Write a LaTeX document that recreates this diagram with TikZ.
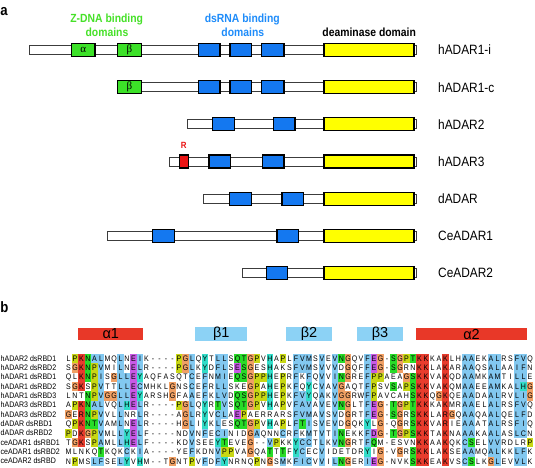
\documentclass[tikz,border=0pt]{standalone}
\usepackage{fontspec}
\setmainfont{Liberation Sans}[FakeStretch=0.88]
\newfontfamily\grserif{Liberation Serif}
\newfontfamily\hdrfont{Liberation Sans}
\definecolor{zgreen}{RGB}{60,225,40}
\definecolor{dsblue}{RGB}{20,120,240}
\definecolor{deamyel}{RGB}{255,255,0}
\definecolor{rred}{RGB}{235,20,20}
\definecolor{ztext}{RGB}{70,225,40}
\definecolor{dstext}{RGB}{30,140,250}
\definecolor{hdrred}{RGB}{232,56,40}
\definecolor{hdrblue}{RGB}{140,210,245}
\definecolor{colb}{RGB}{130,200,240}
\definecolor{colr}{RGB}{232,60,45}
\definecolor{colg}{RGB}{40,220,40}
\definecolor{colm}{RGB}{200,90,230}
\definecolor{colo}{RGB}{240,160,100}
\definecolor{coly}{RGB}{200,215,20}
\definecolor{colc}{RGB}{50,220,200}
\definecolor{barline}{RGB}{60,60,60}
\ExplSyntaxOn
\cs_new:Npn \getchar #1#2 { \str_item:Nn #1 {#2} }
\ExplSyntaxOff
\tikzset{
  protbar/.style={draw=barline, line width=0.9pt, fill=white},
  dombox/.style={draw=black, line width=1.2pt},
  plabel/.style={anchor=base west, inner sep=0pt, font=\fontsize{13.5}{15}\selectfont},
  hdrtxt/.style={anchor=base, inner sep=0pt, font=\bfseries\fontsize{11.8}{13}\selectfont},
  greek/.style={inner sep=0pt, font=\grserif\fontsize{11}{12}\selectfont},
  panel/.style={anchor=base west, inner sep=0pt, font=\bfseries\fontsize{15}{16}\selectfont},
  namest/.style={anchor=base west, inner sep=0pt, font=\fontsize{8}{9}\selectfont},
  resst/.style={anchor=base, inner sep=0pt, font=\fontsize{8}{9}\selectfont},
  hbar/.style={rectangle, inner sep=0pt, minimum height=12pt, font=\hdrfont\fontsize{14.5}{15}\selectfont},
}
\newcommand\arow[2]{%
  \draw[protbar] (#2,#1-4.5) rectangle (416,#1+4.5);
  \draw[dombox,fill=deamyel] (324,#1-6.5) rectangle (414,#1+6.5);}
\newcommand\dbox[4]{\draw[dombox,fill=#1] (#2,#4-6.5) rectangle (#3,#4+6.5);}
\begin{document}
\begin{tikzpicture}[x=1pt,y=-1pt]
\useasboundingbox (0,0) rectangle (535,467);
\fill[white] (0,0) rectangle (535,467);
% ---------- panel a ----------
\node[panel] (pa) at (0.3,15.3) {a};
\node[hdrtxt, text=ztext] (zd1) at (106.7,22.8) {Z-DNA binding};
\node[hdrtxt, text=ztext] (zd2) at (107,36.8) {domains};
\node[hdrtxt, text=dstext] (ds1) at (242.3,22.8) {dsRNA binding};
\node[hdrtxt, text=dstext] (ds2) at (242.8,36.8) {domains};
\node[hdrtxt] (dm) at (369.2,36.5) {deaminase domain};
% hADAR1-i
\arow{50}{29}
\dbox{zgreen}{71.7}{95}{50}
\dbox{zgreen}{117.3}{141.3}{50}
\dbox{dsblue}{198.3}{220}{50}
\dbox{dsblue}{230}{251.7}{50}
\dbox{dsblue}{261.7}{284}{50}
\node[greek] (ga1) at (83.35,50) {α};
\node[greek] (gb1) at (129.3,50) {β};
\node[plabel] (l1) at (438,54.8) {hADAR1-i};
% hADAR1-c
\arow{87.2}{117.3}
\dbox{zgreen}{117.3}{141.3}{87.2}
\dbox{dsblue}{198.3}{220}{87.2}
\dbox{dsblue}{230}{251.7}{87.2}
\dbox{dsblue}{261.7}{284}{87.2}
\node[greek] (gb2) at (129.3,87.2) {β};
\node[plabel] (l2) at (438,92) {hADAR1-c};
% hADAR2
\arow{124.3}{187}
\dbox{dsblue}{212.6}{234.5}{124.3}
\dbox{dsblue}{273.7}{295}{124.3}
\node[plabel] (l3) at (438,129.1) {hADAR2};
% hADAR3
\arow{161.5}{169}
\dbox{rred}{179.2}{188.4}{161.5}
\dbox{dsblue}{208.9}{230.7}{161.5}
\dbox{dsblue}{262.8}{284}{161.5}
\node[anchor=base, inner sep=0pt, font=\bfseries\fontsize{9}{10}\selectfont, text=rred] (rl) at (183.8,148.2) {R};
\node[plabel] (l4) at (438,166.3) {hADAR3};
% dADAR
\arow{198.7}{203.4}
\dbox{dsblue}{229.7}{251.5}{198.7}
\dbox{dsblue}{281.9}{303.4}{198.7}
\node[plabel] (l5) at (438,203.5) {dADAR};
% CeADAR1
\arow{235.8}{107.8}
\dbox{dsblue}{152.2}{174.4}{235.8}
\dbox{dsblue}{277}{298.6}{235.8}
\node[plabel] (l6) at (438,240.6) {CeADAR1};
% CeADAR2
\arow{273}{242.3}
\dbox{dsblue}{266.5}{287.7}{273}
\node[plabel] (l7) at (438,277.8) {CeADAR2};
% ---------- panel b ----------
\node[panel] (pb) at (0.3,312) {b};
\node[hbar, fill=hdrred, minimum width=65pt] (ha1) at (110.75,334) {α1};
\node[hbar, fill=hdrblue, minimum width=52pt] (hb1) at (221.25,334) {β1};
\node[hbar, fill=hdrblue, minimum width=45.5pt] (hb2) at (309,334) {β2};
\node[hbar, fill=hdrblue, minimum width=45.5pt] (hb3) at (380,334) {β3};
\node[hbar, fill=hdrred, minimum width=110.5pt] (ha2) at (471.5,334) {α2};
% colour cells, one string per column (rows 1..12)
\foreach \cc [count=\ci from 1] in {wwwwwwowywww,yowowywywowy,rrrrwrrrrrww,gggwggggowww,byyyybygyywb,bbbbbbbbbbgb,wwwwowwwwwww,wwowowwwwwww,bbbbbbbbbbwb,wwbbbcwwccbc,%
mmmmmmwmmmww,bbcbcbbbbbbc,wwwwwwwwwwww,wwwwwwwwwwww,wwwwwwwwwwww,wwwwwwwwwwww,wwwoowwwwwwo,yywwwywwwwww,oowwwooowwww,bbbbbbbbbbby,%
wwwwwwwwwwww,ccbbbcccbwwb,wwwwwwwwwwww,bbbbbgbbbcbb,bbbbbbbwbgyc,wwwwwwwwwwyw,gmgwggmgwwww,gggwggygwwww,oooooowoooow,ywyyyywybwwy,%
wwywywwwwwww,ccccccwcwbgo,wwwwwwwwwyww,ywyyyywybwgb,wwwwwwwwwwww,bbbbbbbbbccb,bbwwbbbgwbbb,bbbccbbbbbwb,wwwwwwwwwwww,bbbbbbbbbbbb,%
wwwwwwwwwwww,bbbbbbbbbbwb,gwgoogwwggwg,ooowoooowowo,wwwwwwwwwwww,wwwwwwwwwwww,bbbbbbbcbbcb,mmyyymmwmgwm,ooywwoooowoo,wwwwwwwwwwww,%
ggwgwggwgwww,oowwwoooowow,ywoywywwywww,gwgggggggwgg,rrrrrrrrrrrr,rrrrrrrrrrrr,wwwwwwwwwwww,wwwwowwwwwww,rrrrrrrrrrrr,wwwwwwowwwww,%
wwwwwwwwwwww,bbbbbbbbbbbb,bbbbbbbbbgbg,wwwwwwwwwwww,wwwwwwwwwwww,bbbbbbbbbbbo,bbbbbbbbbbbb,wwwwwwwwwwww,wwwwwwwwwwww,bbbbbbbbbwbb,%
bbbcbbbbbwbb,wwwoowwwwyww} {
  \foreach \rr in {1,...,12} {
    \edef\kc{\getchar\cc{\rr}}
    \if\kc w\else
      \edef\fc{col\kc}
      \fill[\fc] (58.75+6.5*\ci,344.475+9.35*\rr) rectangle ++(6.5,9.35);
    \fi
  }
}
% sequences
\foreach \rr/\nm/\sq in {%
1/hADAR2 dsRBD1/LPKNALMQLNEIK----PGLQYTLLSQTGPVHAPLFVMSVEVNGQVFEG-SGPTKKKAKLHAAEKALRSFVQ,%
2/hADAR2 dsRBD2/SGKNPVMILNELR----PGLKYDFLSESGESHAKSFVMSVVVDGQFFEG-SGRNKKLAKARAAQSALAAIFN,%
3/hADAR1 dsRBD1/QLKNPISGLLEYAQFASQTCEFNMIEQSGPPHEPRFKFQVVINGREFPPAEAGSKKVAKQDAAMKAMTILLE,%
4/hADAR1 dsRBD2/SGKSPVTTLLECMHKLGNSCEFRLLSKEGPAHEPKFQYCVAVGAQTFPSVSAPSKKVAKQMAAEEAMKALHG,%
5/hADAR1 dsRBD3/LNTNPVGGLLEYARSHGFAAEFKLVDQSGPPHEPKFVYQAKVGGRWFPAVCAHSKKQGKQEAADAALRVLIG,%
6/hADAR3 dsRBD1/APKNALVQLHELR----PGLQYRTVSQTGPVHAPVFAVAVEVNGLTFEG-TGPTKKKAKMRAAELALRSFVQ,%
7/hADAR3 dsRBD2/GERNPVVLLNRLR----AGLRYVCLAEPAERRARSFVMAVSVDGRTFEG-SGRSKKLARGQAAQAALQELFD,%
8/dADAR dsRBD1/QPKNTVAMLNELR----HGLIYKLESQTGPVHAPLFTISVEVDGQKYLG-QGRSKKVARIEAAATALRSFIQ,%
9/dADAR dsRBD2/PDKGPVMLLYELF----NDVNFECINIDGAQNNCRFKMTVTINEKKFDG-TGPSKKTAKNAAAKAALASLCN,%
10/ceADAR1 dsRBD1/TGKSPAMLLHELF----KDVSEEYTEVEG--VPKKYCCTLKVNGRTFQM-ESVNKKAAKQKCSELVVRDLRP,%
11/ceADAR1 dsRBD2/MLNKQTKQKCKIA----YEFKDNVPPVAGQATTTFYCECVIDETDRYIG-VGRSKKLAKSEAAMQALKKLFK,%
12/ceADAR2 dsRBD/NPMSLFSELYVHM--TGNTPVFDFYNRNQPNGSMKFICVVILNGERIEG-NVKSKKEAKVSCSLKGLEVVLK} {
  \pgfmathsetmacro\yy{349.15+9.35*\rr}
  \node[namest] (nm\rr) at (0.5,\yy+2.6) {\nm};
  \foreach \i in {1,...,72} {
    \edef\ch{\getchar\sq{\i}}
    \node[resst] (res\rr-\i) at (62+6.5*\i,\yy+2.7) {\ch};
  }
}
\end{tikzpicture}
\end{document}
